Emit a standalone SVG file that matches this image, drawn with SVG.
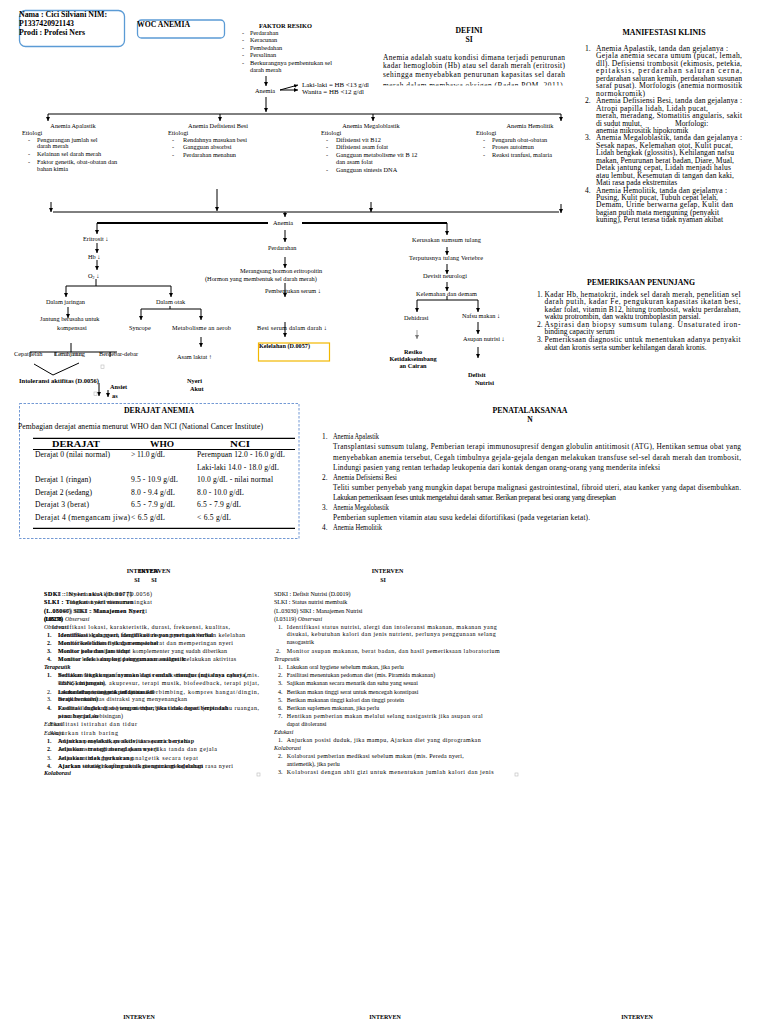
<svg xmlns="http://www.w3.org/2000/svg" width="768" height="1024" viewBox="0 0 768 1024">
<defs>
<marker id="ah" markerWidth="4" markerHeight="4" refX="4" refY="2" orient="auto" markerUnits="userSpaceOnUse"><path d="M0,0 L4,2 L0,4 z" fill="#000"/></marker>
<marker id="ahg" markerWidth="4" markerHeight="4" refX="4" refY="2" orient="auto" markerUnits="userSpaceOnUse"><path d="M0,0 L4,2 L0,4 z" fill="#777"/></marker>
<clipPath id="defclip"><rect x="370" y="45" width="210" height="40.5"/></clipPath>
<style>
text{font-family:"Liberation Serif","DejaVu Serif",serif;fill:#000}
.s{font-size:6.3px;fill:#1a1a1a}
.m{font-size:7.6px}
.iv{font-size:6px}
.b{font-weight:bold}
.it{font-style:italic}
.c{text-anchor:middle}
.ov{font-weight:bold;fill:#111}
.ln{stroke:#000;stroke-width:1;fill:none}
.th{stroke:#000;stroke-width:2;fill:none}
.ar{stroke:#000;stroke-width:1;fill:none;marker-end:url(#ah)}
.sq{fill:none;stroke:#bbb;stroke-width:0.6}
</style>
</defs>
<rect width="768" height="1024" fill="#fff"/>

<g id="identitas">
<rect x="19.5" y="10.5" width="105" height="36" rx="6" fill="none" stroke="#5b9bd5" stroke-width="1.3"/>
<text class="b" font-size="8" x="19" y="16.5" textLength="88" lengthAdjust="spacingAndGlyphs">Nama  : Cici Silviani NIM:</text>
<text class="b" font-size="8" x="19" y="25.5" textLength="55" lengthAdjust="spacingAndGlyphs">P1337420921143</text>
<text class="b" font-size="8" x="19" y="34.5" textLength="66" lengthAdjust="spacingAndGlyphs">Prodi : Profesi Ners</text>
</g>

<g id="judul">
<rect x="137.5" y="20" width="87" height="18" rx="4" fill="none" stroke="#5b9bd5" stroke-width="1.3"/>
<text class="b" font-size="8" x="137" y="27" textLength="53" lengthAdjust="spacingAndGlyphs">WOC ANEMIA</text>
</g>

<g id="faktor-resiko" class="s">
<text class="b c" x="285.5" y="28" font-size="6" textLength="53" lengthAdjust="spacingAndGlyphs">FAKTOR RESIKO</text>
<text x="242" y="35">-</text><text x="250" y="35">Perdarahan</text>
<text x="242" y="42">-</text><text x="250" y="42">Keracunan</text>
<text x="242" y="49.5">-</text><text x="250" y="49.5">Pembedahan</text>
<text x="242" y="57">-</text><text x="250" y="57">Persalinan</text>
<text x="242" y="65">-</text><text x="250" y="65" textLength="82" lengthAdjust="spacingAndGlyphs">Berkurangnya pembentukan sel</text>
<text x="250" y="72">darah merah</text>
</g>

<g id="anemia-root" class="s">
<text x="255" y="92.5">Anemia</text>
</g>
<g id="hb-normal" class="s">
<text x="302" y="87" textLength="67" lengthAdjust="spacingAndGlyphs">Laki-laki = HB &lt;13 g/dl</text>
<text x="302" y="94" textLength="62" lengthAdjust="spacingAndGlyphs">Wanita = HB &lt;12 g/dl</text>
</g>

<g id="definisi">
<text class="b c" x="469" y="32.5" font-size="7.6" textLength="27" lengthAdjust="spacingAndGlyphs">DEFINI</text>
<text class="b c" x="469" y="41.5" font-size="7.6">SI</text>
<g font-size="7.4">
<text x="383" y="59.5" textLength="182" lengthAdjust="spacing">Anemia adalah suatu kondisi dimana terjadi penurunan</text>
<text x="383" y="68" textLength="182" lengthAdjust="spacing">kadar hemoglobin (Hb) atau sel darah merah (eritrosit)</text>
<text x="383" y="76.5" textLength="182" lengthAdjust="spacing">sehingga menyebabkan penurunan kapasitas sel darah</text>
<text x="383" y="87.5" textLength="182" lengthAdjust="spacing" clip-path="url(#defclip)">merah dalam membawa oksigen (Badan POM, 2011).</text>
</g>
</g>

<g id="manifestasi-klinis" class="m">
<text class="b c" x="664" y="35" textLength="83" lengthAdjust="spacingAndGlyphs">MANIFESTASI KLINIS</text>
<text x="585" y="51">1.</text><text x="596" y="51" textLength="132" lengthAdjust="spacing">Anemia Apalastik, tanda dan gejalanya :</text>
<text x="596" y="58.45" textLength="146" lengthAdjust="spacing">Gejala anemia secara umum (pucat, lemah,</text>
<text x="596" y="65.9" textLength="146" lengthAdjust="spacing">dll). Defisiensi trombosit (ekimosis, petekia,</text>
<text x="596" y="73.35" textLength="146" lengthAdjust="spacing">epitaksis, perdarahan saluran cerna,</text>
<text x="596" y="80.8" textLength="146" lengthAdjust="spacing">perdarahan saluran kemih, perdarahan susunan</text>
<text x="596" y="88.25" textLength="146" lengthAdjust="spacing">saraf pusat). Morfologis (anemia normositik</text>
<text x="596" y="95.7" textLength="49" lengthAdjust="spacing">normokromik)</text>
<text x="585" y="103.15">2.</text><text x="596" y="103.15" textLength="146" lengthAdjust="spacing">Anemia Defisiensi Besi, tanda dan gejalanya :</text>
<text x="596" y="110.6" textLength="112" lengthAdjust="spacing">Atropi papilla lidah, Lidah pucat,</text>
<text x="596" y="118.05" textLength="146" lengthAdjust="spacing">merah, meradang, Stomatitis angularis, sakit</text>
<text x="596" y="125.5">di sudut mulut,</text><text x="675" y="125.5">Morfologi:</text>
<text x="596" y="132.95">anemia mikrositik hipokromik</text>
<text x="585" y="140.4">3.</text><text x="596" y="140.4" textLength="146" lengthAdjust="spacing">Anemia Megaloblastik, tanda dan gejalanya :</text>
<text x="596" y="147.85" textLength="137" lengthAdjust="spacing">Sesak napas, Kelemahan otot, Kulit pucat,</text>
<text x="596" y="155.3" textLength="138" lengthAdjust="spacing">Lidah bengkak (glossitis), Kehilangan nafsu</text>
<text x="596" y="162.75" textLength="138" lengthAdjust="spacing">makan, Penurunan berat badan, Diare, Mual,</text>
<text x="596" y="170.2" textLength="135" lengthAdjust="spacing">Detak jantung cepat, Lidah menjadi halus</text>
<text x="596" y="177.65" textLength="138" lengthAdjust="spacing">atau lembut, Kesemutan di tangan dan kaki,</text>
<text x="596" y="185.1">Mati rasa pada ekstremitas</text>
<text x="585" y="192.55">4.</text><text x="596" y="192.55" textLength="131" lengthAdjust="spacing">Anemia Hemolitik, tanda dan gejalanya :</text>
<text x="596" y="200" textLength="122" lengthAdjust="spacing">Pusing, Kulit pucat, Tubuh cepat lelah,</text>
<text x="596" y="207.45" textLength="137" lengthAdjust="spacing">Demam, Urine berwarna gelap, Kulit dan</text>
<text x="596" y="214.9" textLength="123" lengthAdjust="spacing">bagian putih mata menguning (penyakit</text>
<text x="596" y="222.35" textLength="127" lengthAdjust="spacing">kuning), Perut terasa tidak nyaman akibat</text>
</g>

<g id="anemia-aplastik" class="s">
<text class="c" x="73" y="128">Anemia Apalastik</text>
<text x="22" y="134.5">Etiologi</text>
<text x="28" y="142">-</text><text x="37" y="142">Pengurangan jumlah sel</text>
<text x="37" y="147.5">darah merah</text>
<text x="28" y="156">-</text><text x="37" y="156">Kelainan sel darah merah</text>
<text x="28" y="164">-</text><text x="37" y="164">Faktor genetik, obat-obatan dan</text>
<text x="37" y="170.5">bahan kimia</text>
</g>
<g id="anemia-defisiensi-besi" class="s">
<text class="c" x="218" y="128">Anemia Defisiensi Besi</text>
<text x="168" y="134.5">Etiologi</text>
<text x="172" y="142">-</text><text x="183" y="142">Rendahnya masukan besi</text>
<text x="172" y="149">-</text><text x="183" y="149">Gangguan absorbsi</text>
<text x="172" y="156.5">-</text><text x="183" y="156.5">Perdarahan menahun</text>
</g>
<g id="anemia-megaloblastik" class="s">
<text class="c" x="371" y="128">Anemia Megaloblastik</text>
<text x="321" y="134.5">Etiologi</text>
<text x="326" y="142">-</text><text x="336" y="142">Difisiensi vit B12</text>
<text x="326" y="149">-</text><text x="336" y="149">Difisiensi asam folat</text>
<text x="326" y="156.5">-</text><text x="336" y="156.5">Gangguan metabolisme vit B 12</text>
<text x="336" y="164">dan asam folat</text>
<text x="326" y="171.5">-</text><text x="336" y="171.5">Gangguan sintesis DNA</text>
</g>
<g id="anemia-hemolitik" class="s">
<text class="c" x="530" y="128">Anemia Hemolitik</text>
<text x="476" y="134.5">Etiologi</text>
<text x="483" y="142">-</text><text x="492" y="142">Pengaruh obat-obatan</text>
<text x="483" y="149">-</text><text x="492" y="149">Proses autoimun</text>
<text x="483" y="156.5">-</text><text x="492" y="156.5">Reaksi tranfusi, malaria</text>
</g>

<g id="connectors">
<line class="ar" x1="266" y1="76" x2="266" y2="86"/>
<line class="ar" x1="280" y1="90" x2="298" y2="85"/>
<line class="ar" x1="280" y1="90" x2="298" y2="90"/>
<line class="ar" x1="266" y1="97" x2="266" y2="112"/>
<line class="ln" x1="48" y1="114" x2="561" y2="114"/>
<line class="ar" x1="48" y1="114" x2="48" y2="121"/>
<line class="ar" x1="220" y1="114" x2="220" y2="121"/>
<line class="ar" x1="373" y1="114" x2="373" y2="121"/>
<line class="ar" x1="561" y1="114" x2="561" y2="121"/>
<line class="ar" x1="217" y1="189" x2="217" y2="211"/>
<line class="ar" x1="51" y1="202" x2="51" y2="212"/>
<line class="ar" x1="371" y1="202" x2="371" y2="212"/>
<line class="ar" x1="561" y1="204" x2="561" y2="213"/>
<line class="ln" x1="53" y1="212" x2="559" y2="212"/>
<line class="th" x1="97" y1="223" x2="268" y2="223"/>
<line class="th" x1="302" y1="223" x2="447" y2="223"/>
<line class="ar" x1="97" y1="223" x2="97" y2="234"/>
<line class="ar" x1="285" y1="212" x2="285" y2="217"/>
<line class="ar" x1="447" y1="223" x2="447" y2="235"/>
<line class="ar" x1="97" y1="243" x2="97" y2="253"/>
<line class="ar" x1="97" y1="260" x2="97" y2="270"/>
<line class="ln" x1="96" y1="279" x2="96" y2="286"/>
<line class="ln" x1="66" y1="286" x2="171" y2="286"/>
<line class="ar" x1="66" y1="286" x2="66" y2="297"/>
<line class="ar" x1="171" y1="286" x2="171" y2="297"/>
<line class="ar" x1="68" y1="307" x2="68" y2="318"/>
<line class="ln" x1="170" y1="306" x2="170" y2="309"/>
<line class="ln" x1="141" y1="309" x2="201" y2="309"/>
<line class="ar" x1="141" y1="309" x2="141" y2="320"/>
<line class="ar" x1="201" y1="309" x2="201" y2="320"/>
<line class="ar" x1="201" y1="337" x2="201" y2="347"/>
<line class="ln" x1="71" y1="343" x2="71" y2="352"/>
<line class="ln" x1="30" y1="352" x2="117" y2="352"/>
<line class="ln" x1="30" y1="352" x2="30" y2="357"/>
<line class="ln" x1="55" y1="352" x2="55" y2="356"/>
<line class="ln" x1="110" y1="352" x2="110" y2="357"/>
<polyline class="ln" stroke-width="0.8" points="34,364 53,375 79,363"/>
<line class="ar" x1="99" y1="383" x2="99" y2="396"/>
<line class="ar" x1="108" y1="390" x2="108" y2="397"/>
<line class="ar" x1="285" y1="230" x2="285" y2="242"/>
<line class="ar" x1="285" y1="257" x2="285" y2="268"/>
<line class="ar" x1="285" y1="283" x2="285" y2="297"/>
<line class="ar" x1="285" y1="322" x2="285" y2="337"/>
<line class="ar" x1="447" y1="247" x2="447" y2="255"/>
<line class="ar" x1="447" y1="264" x2="447" y2="274"/>
<line class="ar" x1="447" y1="282" x2="447" y2="291"/>
<line class="ln" x1="447" y1="296" x2="447" y2="300"/>
<line class="ln" x1="417" y1="300" x2="478" y2="300"/>
<line class="ar" x1="417" y1="300" x2="417" y2="312"/>
<line class="ar" x1="478" y1="300" x2="478" y2="312"/>
<line x1="417" y1="330" x2="417" y2="339" stroke="#777" stroke-width="0.7" marker-end="url(#ahg)"/>
<line class="ar" x1="478" y1="322" x2="478" y2="334"/>
<line class="ar" x1="478" y1="347" x2="478" y2="358"/>
</g>

<g id="n-anemia2" class="s"><text x="273" y="225">Anemia</text></g>
<g id="n-eritrosit" class="s"><text x="83" y="241">Eritrosit ↓</text></g>
<g id="n-hb" class="s"><text x="88" y="258.5">Hb ↓</text></g>
<g id="n-o2" class="s"><text x="88" y="277.5">O<tspan font-size="4" dy="1">2</tspan><tspan dy="-1"> ↓</tspan></text></g>
<g id="n-jaringan" class="s"><text x="46" y="304">Dalam jaringan</text></g>
<g id="n-otak" class="s"><text x="156" y="304">Dalam otak</text></g>
<g id="n-jantung" class="s"><text x="40" y="321">Jantung berusaha untuk</text><text x="57" y="330">kompensasi</text></g>
<g id="n-syncope" class="s"><text x="129" y="330">Syncope</text></g>
<g id="n-metabolisme" class="s"><text x="172" y="330" textLength="59" lengthAdjust="spacing">Metabolisme an aerob</text></g>
<g id="n-asam-laktat" class="s"><text x="177" y="359">Asam laktat ↑</text></g>
<g id="n-cepat-lelah" class="s"><text x="14" y="356">Cepat lelah</text></g>
<g id="n-lemah-jantung" class="s"><text x="55" y="356" textLength="30" lengthAdjust="spacing">Lemah jantung</text></g>
<g id="n-berdebar" class="s"><text x="99" y="356">Berdebar-debar</text></g>
<g id="n-intoleransi" class="s"><text class="b" x="19" y="382.5" textLength="80" lengthAdjust="spacingAndGlyphs">Intoleransi aktifitas (D.0056)</text></g>
<g id="n-ansietas" class="s"><text class="b" x="110" y="388.5">Ansiet</text><text class="b" x="112" y="397.5">as</text></g>
<g id="n-nyeri" class="s"><text class="b" x="187" y="383">Nyeri</text><text class="b" x="190" y="391">Akut</text></g>
<rect class="sq" x="101" y="365" width="3" height="3.5"/>
<rect class="sq" x="94" y="392" width="3" height="3.5"/>

<g id="n-perdarahan" class="s"><text x="268" y="250">Perdarahan</text></g>
<g id="n-eritropoitin" class="s"><text x="240" y="272.5">Merangsang hormon eritropoitin</text><text x="205" y="281">(Hormon yang membentuk sel darah merah)</text></g>
<g id="n-pembentukan" class="s"><text x="265" y="292.5">Pembentukan serum ↓</text></g>
<g id="n-besi-serum" class="s"><text x="257" y="330" textLength="70" lengthAdjust="spacing">Besi serum dalam darah ↓</text></g>
<g id="n-kelelahan" class="s">
<rect x="258.5" y="343" width="71" height="18" fill="none" stroke="#f2b800" stroke-width="1.2"/>
<text class="b" x="259" y="347.5" textLength="51" lengthAdjust="spacingAndGlyphs">Kelelahan (D.0057)</text>
</g>

<g id="n-kerusakan" class="s"><text x="412" y="241.5" textLength="69" lengthAdjust="spacing">Kerusakan sumsum tulang</text></g>
<g id="n-terputus" class="s"><text x="409" y="260" textLength="74" lengthAdjust="spacing">Terputusnya tulang Vertebre</text></g>
<g id="n-devisit" class="s"><text x="423" y="277.5">Devisit neurologi</text></g>
<g id="n-kelemahan" class="s"><text x="416" y="295.5" textLength="61" lengthAdjust="spacing">Kelemahan dan demam</text></g>
<g id="n-dehidrasi" class="s"><text x="404" y="319.5">Dehidrasi</text></g>
<g id="n-nafsu" class="s"><text x="462" y="317.5">Nafsu makan ↓</text></g>
<g id="n-asupan" class="s"><text x="463" y="341">Asupan nutrisi ↓</text></g>
<g id="n-resiko" class="s"><text class="b c" x="413" y="354">Resiko</text><text class="b c" x="413" y="360.5">Ketidakseimbang</text><text class="b c" x="413" y="368">an Cairan</text></g>
<g id="n-defisit" class="s"><text class="b" x="468" y="377">Defisit</text><text class="b" x="475" y="384.5">Nutrisi</text></g>

<g id="pemeriksaan-penunjang" font-size="7.5">
<text class="b c" x="641" y="284.5" font-size="7.4" textLength="108" lengthAdjust="spacingAndGlyphs">PEMERIKSAAN PENUNJANG</text>
<text x="537" y="297">1.</text><text x="544.5" y="297" textLength="196" lengthAdjust="spacing">Kadar Hb, hematokrit, indek sel darah merah, penelitian sel</text>
<text x="544.5" y="304.4" textLength="196" lengthAdjust="spacing">darah putih, kadar Fe, pengukuran kapasitas ikatan besi,</text>
<text x="544.5" y="311.8" textLength="196" lengthAdjust="spacing">kadar folat, vitamin B12, hitung trombosit, waktu perdarahan,</text>
<text x="544.5" y="319.3">waktu protrombin, dan waktu tromboplastin parsial.</text>
<text x="537" y="327">2.</text><text x="544.5" y="327" textLength="196" lengthAdjust="spacing">Aspirasi dan biopsy sumsum tulang. Unsaturated iron-</text>
<text x="544.5" y="334.4">binding capacity serum</text>
<text x="537" y="342">3.</text><text x="544.5" y="342" textLength="196" lengthAdjust="spacing">Pemeriksaan diagnostic untuk menentukan adanya penyakit</text>
<text x="544.5" y="349.7">akut dan kronis serta sumber kehilangan darah kronis.</text>
</g>

<g id="derajat-anemia" font-size="7.6">
<rect x="19.5" y="403.5" width="279.5" height="135" fill="none" stroke="#4f7fc9" stroke-width="0.8" stroke-dasharray="2.5,1.5"/>
<text class="b c" x="159" y="412.5" textLength="70" lengthAdjust="spacingAndGlyphs">DERAJAT ANEMIA</text>
<text x="18" y="429" textLength="245" lengthAdjust="spacing">Pembagian derajat anemia menurut WHO dan NCI (National Cancer Institute)</text>
<line x1="33" y1="438.3" x2="295" y2="438.3" stroke="#000" stroke-width="1.2"/>
<text class="b c" x="76" y="447" font-size="8" textLength="48" lengthAdjust="spacingAndGlyphs">DERAJAT</text>
<text class="b c" x="162" y="447" font-size="8" textLength="24" lengthAdjust="spacingAndGlyphs">WHO</text>
<text class="b c" x="240" y="447" font-size="8" textLength="20" lengthAdjust="spacingAndGlyphs">NCI</text>
<line x1="33" y1="449.5" x2="295" y2="449.5" stroke="#000" stroke-width="1"/>
<text x="35" y="457.3" textLength="75" lengthAdjust="spacing">Derajat 0 (nilai normal)</text>
<text x="131" y="457.3" textLength="34" lengthAdjust="spacing">&gt; 11.0 g/dL</text>
<text x="197" y="457.3" textLength="88" lengthAdjust="spacing">Perempuan 12.0 - 16.0 g/dL</text>
<text x="197" y="470" textLength="82" lengthAdjust="spacing">Laki-laki 14.0 - 18.0 g/dL</text>
<text x="35" y="482.3" textLength="56" lengthAdjust="spacing">Derajat 1 (ringan)</text>
<text x="131" y="482.3" textLength="47" lengthAdjust="spacing">9.5 - 10.9 g/dL</text>
<text x="197" y="482.3" textLength="76" lengthAdjust="spacing">10.0 g/dL - nilai normal</text>
<text x="35" y="495" textLength="57" lengthAdjust="spacing">Derajat 2 (sedang)</text>
<text x="131" y="495" textLength="44" lengthAdjust="spacing">8.0 - 9.4 g/dL</text>
<text x="197" y="495" textLength="47" lengthAdjust="spacing">8.0 - 10.0 g/dL</text>
<text x="35" y="507.3" textLength="54" lengthAdjust="spacing">Derajat 3 (berat)</text>
<text x="131" y="507.3" textLength="44" lengthAdjust="spacing">6.5 - 7.9 g/dL</text>
<text x="197" y="507.3" textLength="44" lengthAdjust="spacing">6.5 - 7.9 g/dL</text>
<text x="35" y="520" textLength="95" lengthAdjust="spacing">Derajat 4 (mengancam jiwa)</text>
<text x="131" y="520" textLength="34" lengthAdjust="spacing">&lt; 6.5 g/dL</text>
<text x="197" y="520" textLength="34" lengthAdjust="spacing">&lt; 6.5 g/dL</text>
<line x1="33" y1="528.3" x2="295" y2="528.3" stroke="#000" stroke-width="1.2"/>
</g>

<g id="penatalaksanaan" font-size="7.3">
<text class="b c" x="530" y="412.5" font-size="7.5" textLength="75" lengthAdjust="spacingAndGlyphs">PENATALAKSANAA</text>
<text class="b c" x="530" y="421.5" font-size="7.5">N</text>
<text x="322" y="439">1.</text><text x="333" y="439" textLength="46" lengthAdjust="spacingAndGlyphs">Anemia Apalastik</text>
<text x="333" y="449.3" textLength="408" lengthAdjust="spacing">Transplantasi sumsum tulang, Pemberian terapi immunosupresif dengan globulin antitimosit (ATG), Hentikan semua obat yang</text>
<text x="333" y="459.6" textLength="408" lengthAdjust="spacing">menyebabkan anemia tersebut, Cegah timbulnya gejala-gejala dengan melakukan transfuse sel-sel darah merah dan trombosit,</text>
<text x="333" y="470" textLength="327" lengthAdjust="spacing">Lindungi pasien yang rentan terhadap leukopenia dari kontak dengan orang-orang yang menderita infeksi</text>
<text x="322" y="479.6">2.</text><text x="333" y="479.6" textLength="64" lengthAdjust="spacingAndGlyphs">Anemia Defisiensi Besi</text>
<text x="333" y="490" textLength="408" lengthAdjust="spacing">Teliti sumber penyebab yang mungkin dapat berupa malignasi gastrointestinal, fibroid uteri, atau kanker yang dapat disembuhkan.</text>
<text x="333" y="500" textLength="283" lengthAdjust="spacing">Lakukan pemeriksaan feses untuk mengetahui darah samar. Berikan preparat besi orang yang diresepkan</text>
<text x="322" y="509.6">3.</text><text x="333" y="509.6" textLength="56" lengthAdjust="spacingAndGlyphs">Anemia Megalobastik</text>
<text x="333" y="520" textLength="257" lengthAdjust="spacing">Pemberian suplemen vitamin atau susu kedelai difortifikasi (pada vegetarian ketat).</text>
<text x="322" y="530">4.</text><text x="333" y="530" textLength="49" lengthAdjust="spacingAndGlyphs">Anemia Hemolitik</text>
</g>

<g id="intervensi-1" class="iv">
<text class="b c" x="142.5" y="573">INTERVEN</text>
<text class="b c" x="154.5" y="573">INTERVEN</text>
<text class="b c" x="137" y="582">SI</text>
<text class="b c" x="154" y="582">SI</text>
<text x="44" y="596.3" textLength="108" lengthAdjust="spacing">SDKI : Intoleransi Aktivitas (D.0056)</text>
<text class="ov" x="44" y="596.3" textLength="88" lengthAdjust="spacing">SDKI : Nyeri akut (D.0077)</text>
<text x="44" y="604.3" textLength="108" lengthAdjust="spacing">SLKI : Toleransi aktivitas meningkat</text>
<text class="ov" x="44" y="604.3" textLength="89" lengthAdjust="spacing">SLKI : Tingkat nyeri menurun</text>
<text x="44" y="612.7" textLength="103" lengthAdjust="spacing">(L.05047) SIKI : Manajemen Energi</text>
<text class="ov" x="44" y="612.7" textLength="100" lengthAdjust="spacing">(L.08066) SIKI : Manajemen Nyeri</text>
<text class="ov" x="44" y="620.7" textLength="19" lengthAdjust="spacing">(I.08238)</text>
<text class="b" x="44" y="620.7" textLength="19" lengthAdjust="spacing">(I.05178)</text>
<text class="it" x="65" y="620.7">Observasi</text>
<text class="it" x="44" y="628.7">Observasi</text>
<text x="52" y="628.7" textLength="178" lengthAdjust="spacing">Identifikasi lokasi, karakteristik, durasi, frekuensi, kualitas,</text>
<text class="b" x="47" y="636.7">1.</text>
<text x="58" y="636.7" textLength="187" lengthAdjust="spacing">Identifikasi gangguan fungsi tubuh yang mengakibatkan kelelahan</text>
<text class="ov" x="58" y="636.7" textLength="155" lengthAdjust="spacing">Identifikasi skala nyeri, identifikasi respon nyeri non verbal</text>
<text class="b" x="47" y="644.7">2.</text>
<text x="58" y="644.7" textLength="175" lengthAdjust="spacing">Identifikasi faktor yang memperberat dan memperingan nyeri</text>
<text class="ov" x="58" y="644.7" textLength="100" lengthAdjust="spacing">Monitor kelelahan fisik dan emosional</text>
<text class="b" x="47" y="652.7">3.</text>
<text x="58" y="652.7" textLength="169" lengthAdjust="spacing">Monitor keberhasilan terapi komplementer yang sudah diberikan</text>
<text class="ov" x="58" y="652.7" textLength="72" lengthAdjust="spacing">Monitor pola dan jam tidur</text>
<text class="b" x="47" y="660.7">4.</text>
<text x="58" y="660.7" textLength="178" lengthAdjust="spacing">Monitor lokasi dan ketidaknyamanan selama melakukan aktivitas</text>
<text class="ov" x="58" y="660.7" textLength="127" lengthAdjust="spacing">Monitor efek samping penggunaan analgetik</text>
<text class="b it" x="44" y="668.7">Terapeutik</text>
<text class="b" x="47" y="677">1.</text>
<text x="58" y="677" textLength="201" lengthAdjust="spacing">Berikan teknik nonfarmakologis untuk mengurangi rasa nyeri (mis.</text>
<text class="ov" x="58" y="677" textLength="189" lengthAdjust="spacing">Sediakan lingkungan nyaman dan rendah stimulus (misalnya cahaya,</text>
<text x="58" y="685.3" textLength="201" lengthAdjust="spacing">TENS, hipnosis, akupresur, terapi musik, biofeedback, terapi pijat,</text>
<text class="ov" x="58" y="685.3" textLength="47" lengthAdjust="spacing">suara, kunjungan)</text>
<text x="47" y="693.7">2.</text>
<text x="58" y="693.7" textLength="201" lengthAdjust="spacing">aromaterapi, teknik imajinasi terbimbing, kompres hangat/dingin,</text>
<text class="ov" x="58" y="693.7" textLength="96" lengthAdjust="spacing">Lakukan latihan rentang gerak pasif dan/atau aktif</text>
<text x="47" y="701.3">3.</text>
<text x="58" y="701.3" textLength="129" lengthAdjust="spacing">Berikan aktivitas distraksi yang menyenangkan</text>
<text class="ov" x="58" y="701.3" textLength="40" lengthAdjust="spacing">terapi bermain)</text>
<text class="b" x="47" y="709.7">4.</text>
<text x="58" y="709.7" textLength="201" lengthAdjust="spacing">Kontrol lingkungan yang memperberat rasa nyeri (mis. suhu ruangan,</text>
<text class="ov" x="58" y="709.7" textLength="170" lengthAdjust="spacing">Fasilitasi duduk di sisi tempat tidur, jika tidak dapat berpindah</text>
<text x="58" y="718" textLength="65" lengthAdjust="spacing">pencahayaan, kebisingan)</text>
<text class="ov" x="58" y="718" textLength="40" lengthAdjust="spacing">atau berjalan</text>
<text class="it" x="44" y="726.3">Edukasi</text>
<text x="50" y="726.3" textLength="87" lengthAdjust="spacing">Fasilitasi istirahat dan tidur</text>
<text class="it" x="44" y="734.7">Edukasi</text>
<text x="50" y="734.7" textLength="68" lengthAdjust="spacing">Anjurkan tirah baring</text>
<text class="b" x="47" y="743">1.</text>
<text x="58" y="743" textLength="130" lengthAdjust="spacing">Jelaskan penyebab, periode, dan pemicu nyeri</text>
<text class="ov" x="58" y="743" textLength="136" lengthAdjust="spacing">Anjurkan melakukan aktivitas secara bertahap</text>
<text class="b" x="47" y="751.3">2.</text>
<text x="58" y="751.3" textLength="159" lengthAdjust="spacing">Anjurkan menghubungi perawat jika tanda dan gejala</text>
<text class="ov" x="58" y="751.3" textLength="100" lengthAdjust="spacing">Jelaskan strategi meredakan nyeri</text>
<text x="47" y="759.7">3.</text>
<text x="58" y="759.7" textLength="140" lengthAdjust="spacing">Anjurkan menggunakan analgetik secara tepat</text>
<text class="ov" x="58" y="759.7" textLength="75" lengthAdjust="spacing">Jelaskan tidak berkurang</text>
<text class="b" x="47" y="767.7">4.</text>
<text x="58" y="767.7" textLength="175" lengthAdjust="spacing">Ajarkan teknik nonfarmakologis untuk mengurangi rasa nyeri</text>
<text class="ov" x="58" y="767.7" textLength="145" lengthAdjust="spacing">Ajarkan strategi koping untuk mengurangi kelelahan</text>
<text class="b it" x="44" y="775.3">Kolaborasi</text>
</g>

<g id="intervensi-2" class="iv">
<text class="b c" x="387.5" y="573">INTERVEN</text>
<text class="b c" x="383" y="582">SI</text>
<text x="274" y="596.3">SDKI : Defisit Nutrisi (D.0019)</text>
<text x="274" y="604.3">SLKI : Status nutrisi membaik</text>
<text x="274" y="612.7">(L.03030) SIKI : Manajemen Nutrisi</text>
<text x="274" y="620.7">(I.03119) <tspan class="it">Observasi</tspan></text>
<text x="278" y="628.7">1.</text><text x="286.7" y="628.7" textLength="210" lengthAdjust="spacing">Identifikasi status nutrisi, alergi dan intoleransi makanan, makanan yang</text>
<text x="286.7" y="636.3" textLength="209" lengthAdjust="spacing">disukai, kebutuhan kalori dan jenis nutrient, perlunya penggunaan selang</text>
<text x="286.7" y="644.2">nasogastrik</text>
<text x="276" y="653">2.</text><text x="286.7" y="653" textLength="213" lengthAdjust="spacing">Monitor asupan makanan, berat badan, dan hasil pemeriksaan laboratorium</text>
<text class="it" x="274" y="660.7">Terapeutik</text>
<text x="278" y="668.7">1.</text><text x="286.7" y="668.7">Lakukan oral hygiene sebelum makan, jika perlu</text>
<text x="278" y="677">2.</text><text x="286.7" y="677">Fasilitasi menentukan pedoman diet (mis. Piramida makanan)</text>
<text x="278" y="685.3">3.</text><text x="286.7" y="685.3">Sajikan makanan secara menarik dan suhu yang sesuai</text>
<text x="278" y="693.7">4.</text><text x="286.7" y="693.7">Berikan makan tinggi serat untuk mencegah konstipasi</text>
<text x="278" y="701.8">5.</text><text x="286.7" y="701.8">Berikan makanan tinggi kalori dan tinggi protein</text>
<text x="278" y="710">6.</text><text x="286.7" y="710">Berikan suplemen makanan, jika perlu</text>
<text x="278" y="718">7.</text><text x="286.7" y="718" textLength="196" lengthAdjust="spacing">Hentikan pemberian makan melalui selang nasigastrik jika asupan oral</text>
<text x="286.7" y="726">dapat ditoleransi</text>
<text class="it" x="274" y="734">Edukasi</text>
<text x="278" y="742.3">1.</text><text x="286.7" y="742.3" textLength="194" lengthAdjust="spacing">Anjurkan posisi duduk, jika mampu, Ajarkan diet yang diprogramkan</text>
<text class="it" x="274" y="749.8">Kolaborasi</text>
<text x="278" y="758">2.</text><text x="286.7" y="758" textLength="177" lengthAdjust="spacing">Kolaborasi pemberian medikasi sebelum makan (mis. Pereda nyeri,</text>
<text x="286.7" y="765.5">antiemetik), jika perlu</text>
<text x="278" y="773.8">3.</text><text x="286.7" y="773.8" textLength="207" lengthAdjust="spacing">Kolaborasi dengan ahli gizi untuk menentukan jumlah kalori dan jenis</text>
</g>
<rect class="sq" x="257" y="773" width="3" height="3"/>
<rect class="sq" x="515" y="773" width="3" height="3"/>

<g id="intervensi-bawah" class="iv">
<text class="b c" x="139" y="1019">INTERVEN</text>
<text class="b c" x="385" y="1019">INTERVEN</text>
<text class="b c" x="637" y="1019">INTERVEN</text>
</g>
</svg>
